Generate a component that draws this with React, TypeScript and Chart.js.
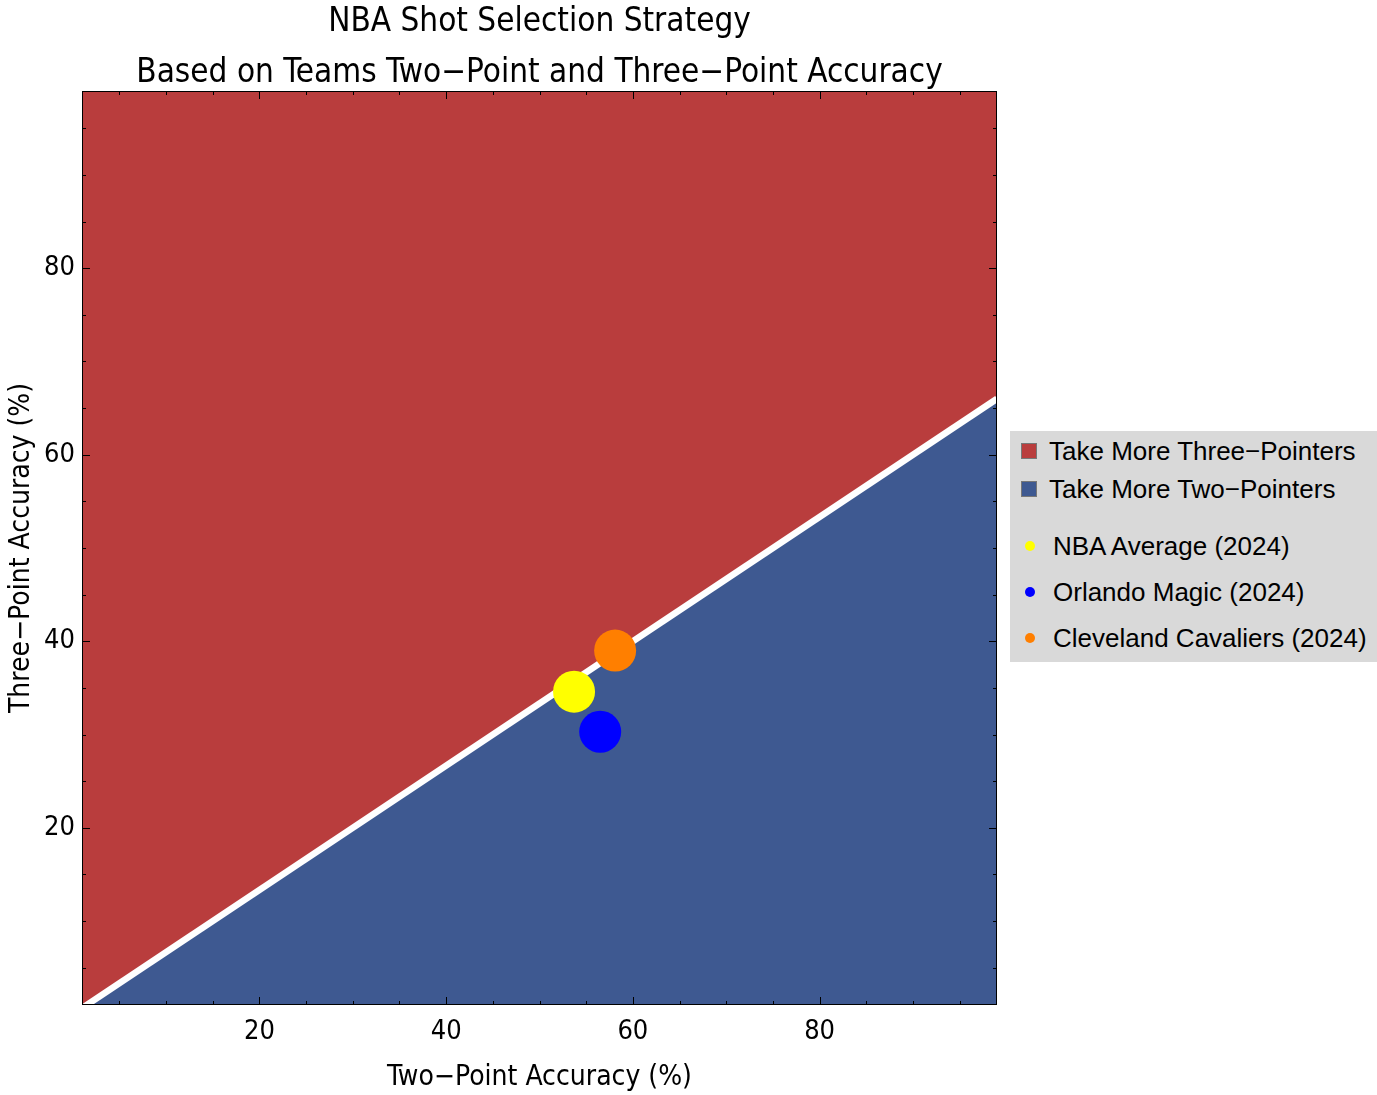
import React, { useEffect, useRef } from "react";
import { Chart, registerables } from "chart.js";

Chart.register(...registerables);

const titleLines = ["NBA Shot Selection Strategy", "Based on Teams Two\u2212Point and Three\u2212Point Accuracy"];
const xTitle = "Two\u2212Point Accuracy (%)";
const yTitle = "Three\u2212Point Accuracy (%)";

const axisMin = 1;
const axisMax = 99;
const majorTicks = [20, 40, 60, 80];
const minorTicks = [5, 10, 15, 25, 30, 35, 45, 50, 55, 65, 70, 75, 85, 90, 95];

// decision boundary: three-point % = 2/3 of two-point %
const boundaryX = [1, 99];
const boundaryY = [0.667, 66];

const teamNames = ["NBA Average (2024)", "Orlando Magic (2024)", "Cleveland Cavaliers (2024)"];
const teamTwoPt = [53.7, 56.5, 58.1];
const teamThreePt = [34.6, 30.3, 39.0];
const teamColors = ["#FFFF00", "#0000FF", "#FF7F00"];

const regionNames = ["Take More Three\u2212Pointers", "Take More Two\u2212Pointers"];
const regionColors = ["#B93D3D", "#3E5991"];

const FONT = '"DejaVu Sans Condensed", "DejaVu Sans", sans-serif';

const framePlugin = {
  id: "framePlugin",
  afterDraw(chart: any) {
    const ctx = chart.ctx;
    const { left, right, top, bottom } = chart.chartArea;
    const xs = chart.scales.x;
    const ys = chart.scales.y;
    ctx.save();
    ctx.strokeStyle = "#000";
    ctx.lineWidth = 1;
    ctx.strokeRect(left + 0.5, top + 0.5, right - left - 1, bottom - top - 1);
    const drawTicks = (vals: number[], len: number) => {
      vals.forEach((v) => {
        const px = Math.round(xs.getPixelForValue(v)) + 0.5;
        ctx.beginPath();
        ctx.moveTo(px, bottom);
        ctx.lineTo(px, bottom - len);
        ctx.moveTo(px, top);
        ctx.lineTo(px, top + len);
        ctx.stroke();
        const py = Math.round(ys.getPixelForValue(v)) + 0.5;
        ctx.beginPath();
        ctx.moveTo(left, py);
        ctx.lineTo(left + len, py);
        ctx.moveTo(right, py);
        ctx.lineTo(right - len, py);
        ctx.stroke();
      });
    };
    drawTicks(majorTicks, 8);
    drawTicks(minorTicks, 4);

    ctx.fillStyle = "#000";
    ctx.textAlign = "center";
    ctx.textBaseline = "middle";
    ctx.font = `33px ${FONT}`;
    const cx = (left + right) / 2;
    ctx.fillText(titleLines[0], cx, 22);
    ctx.fillText(titleLines[1], cx, 73);
    ctx.font = `28px ${FONT}`;
    ctx.fillText(xTitle, cx, 1078);
    ctx.save();
    ctx.translate(22, (top + bottom) / 2);
    ctx.rotate(-Math.PI / 2);
    ctx.fillText(yTitle, 0, 0);
    ctx.restore();
    ctx.restore();
  },
};

export default function App() {
  const ref = useRef<HTMLCanvasElement>(null);
  useEffect(() => {
    if (!ref.current) return;
    const boundary = boundaryX.map((x, i) => ({ x, y: boundaryY[i] }));
    const chart = new Chart(ref.current, {
      type: "scatter",
      data: {
        datasets: [
          ...teamNames.map((name, i) => ({
            type: "scatter" as const,
            label: name,
            data: [{ x: teamTwoPt[i], y: teamThreePt[i] }],
            backgroundColor: teamColors[i],
            borderWidth: 0,
            pointRadius: 21,
            order: 0,
          })),
          {
            type: "line" as const,
            label: "boundary",
            data: boundary,
            borderColor: "#FFFFFF",
            borderWidth: 6.5,
            pointRadius: 0,
            fill: false,
            order: 1,
          },
          {
            type: "line" as const,
            label: regionNames[0],
            data: boundary,
            borderWidth: 0,
            borderColor: "rgba(0,0,0,0)",
            backgroundColor: regionColors[0],
            pointRadius: 0,
            fill: "end",
            order: 2,
          },
          {
            type: "line" as const,
            label: regionNames[1],
            data: boundary,
            borderWidth: 0,
            borderColor: "rgba(0,0,0,0)",
            backgroundColor: regionColors[1],
            pointRadius: 0,
            fill: "start",
            order: 2,
          },
        ],
      },
      options: {
        animation: false,
        responsive: false,
        layout: { padding: { top: 91, right: 380, left: 0, bottom: 0 } },
        plugins: { legend: { display: false }, title: { display: false }, tooltip: { enabled: false } },
        scales: {
          x: {
            type: "linear",
            min: axisMin,
            max: axisMax,
            grid: { display: false, drawTicks: false },
            border: { display: false },
            afterBuildTicks: (s: any) => {
              s.ticks = majorTicks.map((v) => ({ value: v }));
            },
            afterFit: (s: any) => {
              s.height = 90;
            },
            ticks: { font: { family: FONT, size: 27 }, color: "#000", padding: 11, maxRotation: 0 },
          },
          y: {
            type: "linear",
            min: axisMin,
            max: axisMax,
            grid: { display: false, drawTicks: false },
            border: { display: false },
            afterBuildTicks: (s: any) => {
              s.ticks = majorTicks.map((v) => ({ value: v }));
            },
            afterFit: (s: any) => {
              s.width = 82;
            },
            ticks: { font: { family: FONT, size: 27 }, color: "#000", padding: 7 },
          },
        },
      },
      plugins: [framePlugin],
    });
    return () => chart.destroy();
  }, []);

  const legendText = { fontFamily: '"Liberation Sans", Arial, sans-serif', fontSize: 26, color: "#000", whiteSpace: "nowrap" as const };

  return (
    <div style={{ position: "absolute", left: 0, top: 0, width: 1377, height: 1095, background: "#fff" }}>
      <canvas ref={ref} width={1377} height={1095} style={{ position: "absolute", left: 0, top: 0 }} />
      <div style={{ position: "absolute", left: 1010, top: 431, width: 367, height: 231, background: "#D9D9D9" }}>
        {regionNames.map((n, i) => (
          <div key={n} style={{ position: "absolute", left: 11, top: 11 + i * 38, height: 18, display: "flex", alignItems: "center" }}>
            <div style={{ width: 14, height: 14, background: regionColors[i], border: "1px solid #777", flexShrink: 0 }} />
            <span style={{ ...legendText, marginLeft: 12 }}>{n}</span>
          </div>
        ))}
        {teamNames.map((n, i) => (
          <div key={n} style={{ position: "absolute", left: 15, top: 104 + i * 46, height: 22, display: "flex", alignItems: "center" }}>
            <div style={{ width: 10, height: 10, borderRadius: 5, background: teamColors[i], flexShrink: 0 }} />
            <span style={{ ...legendText, marginLeft: 18 }}>{n}</span>
          </div>
        ))}
      </div>
    </div>
  );
}
